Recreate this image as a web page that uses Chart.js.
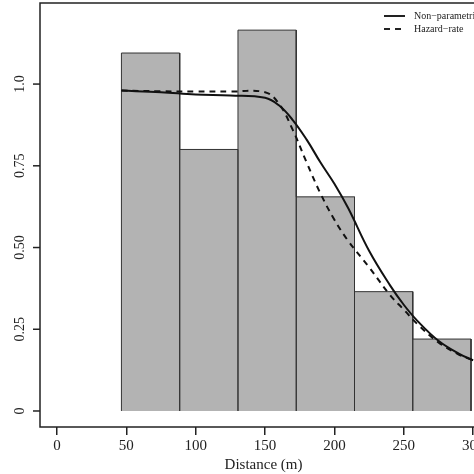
<!DOCTYPE html>
<html>
<head>
<script src="https://cdn.jsdelivr.net/npm/chart.js@4"></script>
<style>
html, body { margin: 0; padding: 0; overflow: hidden; background: #fff; }
#wrap { width: 490px; height: 474px; }
</style>
</head>
<body>
<div id="wrap"><canvas id="myChart" width="490" height="474"></canvas></div>
<script>
const binEdges = [46.5, 88.5, 130.5, 172.5, 214.5, 256.5, 298.5];
const binHeights = [1.095, 0.80, 1.165, 0.655, 0.365, 0.22];
const curveX = [46.5, 75, 100, 125, 150, 160, 170, 180, 190, 200, 210, 225, 240, 250, 260, 275, 290, 300];
const nonParam = [0.98, 0.975, 0.968, 0.965, 0.958, 0.935, 0.89, 0.83, 0.76, 0.695, 0.62, 0.49, 0.385, 0.325, 0.275, 0.215, 0.175, 0.155];
const hazardRate = [0.98, 0.978, 0.977, 0.977, 0.975, 0.94, 0.86, 0.76, 0.665, 0.585, 0.52, 0.44, 0.355, 0.31, 0.265, 0.21, 0.172, 0.155];
const xTicks = [0, 50, 100, 150, 200, 250, 300];
const yTicks = [0, 0.25, 0.5, 0.75, 1.0];
const yTickLabels = ['0', '0.25', '0.50', '0.75', '1.0'];

const histPath = [{ x: binEdges[0], y: 0 }];
binHeights.forEach((h, i) => {
    histPath.push({ x: binEdges[i], y: h });
    histPath.push({ x: binEdges[i + 1], y: h });
    histPath.push({ x: binEdges[i + 1], y: 0 });
});

const FONT = '"Liberation Serif", "DejaVu Serif", serif';

const extras = {
    id: 'extras',
    afterDraw(chart) {
        const ctx = chart.ctx;
        const a = chart.chartArea;
        const y = chart.scales.y;
        ctx.save();
        // box
        ctx.strokeStyle = '#222';
        ctx.lineWidth = 1.5;
        ctx.strokeRect(a.left, a.top, a.right - a.left, a.bottom - a.top);
        // y ticks (rotated labels, R style)
        ctx.fillStyle = '#222';
        ctx.font = '14px ' + FONT;
        ctx.textAlign = 'center';
        ctx.textBaseline = 'middle';
        yTicks.forEach((v, i) => {
            const py = y.getPixelForValue(v);
            ctx.beginPath();
            ctx.moveTo(a.left, py);
            ctx.lineTo(a.left - 7, py);
            ctx.stroke();
            ctx.save();
            ctx.translate(20, py);
            ctx.rotate(-Math.PI / 2);
            ctx.fillText(yTickLabels[i], 0, 0);
            ctx.restore();
        });
        // legend
        ctx.lineWidth = 2;
        ctx.beginPath();
        ctx.moveTo(384, 16); ctx.lineTo(405, 16);
        ctx.stroke();
        ctx.setLineDash([6, 5]);
        ctx.beginPath();
        ctx.moveTo(384, 29); ctx.lineTo(405, 29);
        ctx.stroke();
        ctx.setLineDash([]);
        ctx.font = '10px ' + FONT;
        ctx.textAlign = 'left';
        ctx.fillText('Non\u2212parametric', 414, 16);
        ctx.fillText('Hazard\u2212rate', 414, 29);
        ctx.restore();
    }
};

new Chart(document.getElementById('myChart').getContext('2d'), {
    type: 'line',
    data: {
        datasets: [
            {
                label: 'Non-parametric',
                data: curveX.map((x, i) => ({ x: x, y: nonParam[i] })),
                borderColor: '#111',
                borderWidth: 2,
                pointRadius: 0,
                tension: 0.4,
                fill: false
            },
            {
                label: 'Hazard-rate',
                data: curveX.map((x, i) => ({ x: x, y: hazardRate[i] })),
                borderColor: '#111',
                borderWidth: 2,
                borderDash: [6, 5],
                pointRadius: 0,
                tension: 0.4,
                fill: false
            },
            {
                label: 'Histogram',
                data: histPath,
                borderColor: '#333',
                borderWidth: 1,
                backgroundColor: '#b3b3b3',
                pointRadius: 0,
                tension: 0,
                fill: 'origin'
            }
        ]
    },
    options: {
        responsive: false,
        animation: false,
        events: [],
        layout: { padding: { left: 40, top: 3, right: 3, bottom: 0 } },
        plugins: { legend: { display: false }, tooltip: { enabled: false } },
        scales: {
            x: {
                type: 'linear',
                min: -12.2,
                max: 310,
                afterBuildTicks: (s) => { s.ticks = xTicks.map(v => ({ value: v })); },
                afterFit: (s) => { s.height = 47; },
                grid: { drawOnChartArea: false, tickLength: 8, color: '#222', lineWidth: 1.5 },
                border: { display: false },
                ticks: { color: '#222', font: { family: FONT, size: 15 }, padding: 2, maxRotation: 0 },
                title: { display: true, text: 'Distance (m)', color: '#222', font: { family: FONT, size: 15 }, padding: 0 }
            },
            y: {
                min: -0.049,
                max: 1.248,
                afterFit: (s) => { s.width = 0; },
                grid: { display: false },
                border: { display: false },
                ticks: { display: false }
            }
        }
    },
    plugins: [extras]
});
</script>
</body>
</html>
